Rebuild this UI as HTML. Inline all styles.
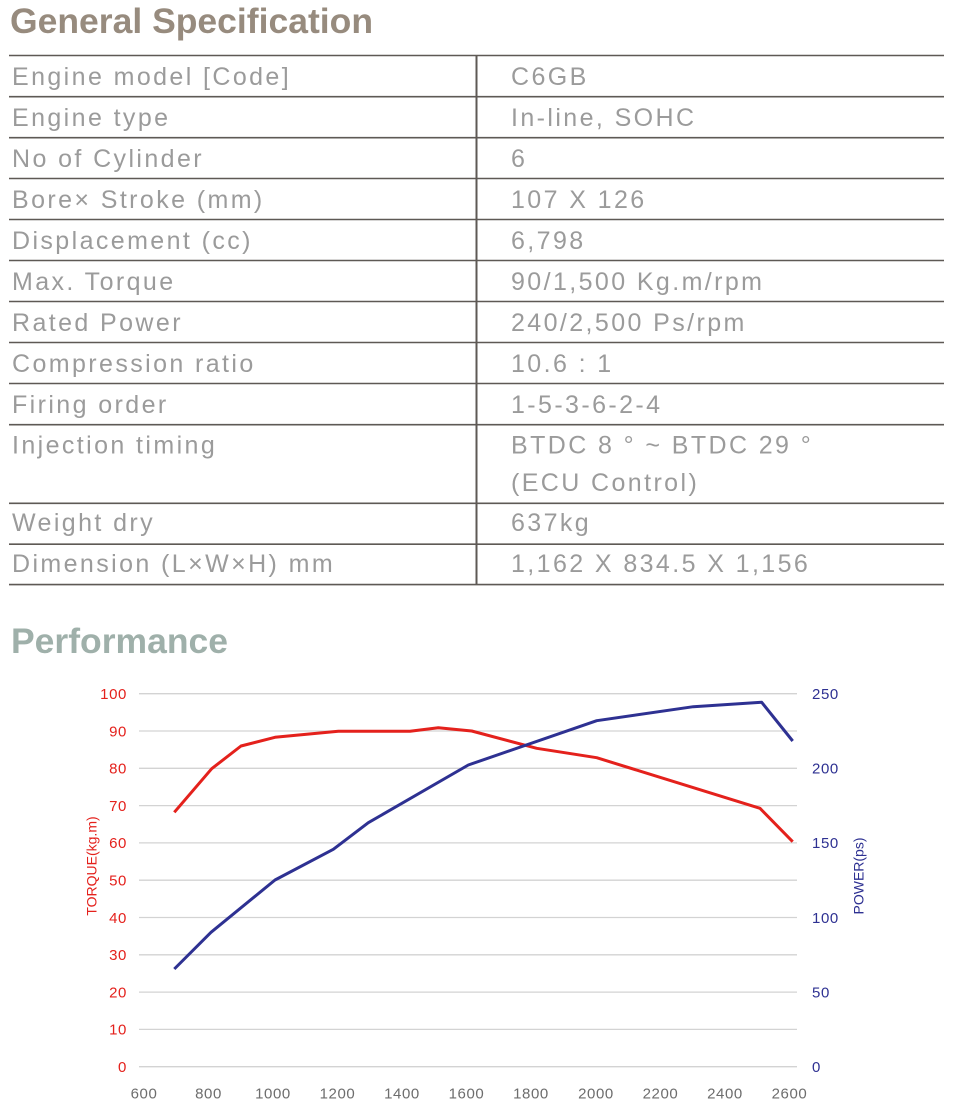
<!DOCTYPE html>
<html>
<head>
<meta charset="utf-8">
<style>
html,body{margin:0;padding:0;background:#fff;}
body{width:956px;height:1113px;overflow:hidden;}
svg{display:block;}
.t{font-family:"Liberation Sans",Arial,sans-serif;font-size:25px;fill:#9b9b9b;letter-spacing:2.4px;}
.h{font-family:"Liberation Sans",Arial,sans-serif;font-size:35.5px;font-weight:bold;}
.ax{font-family:"Liberation Sans",Arial,sans-serif;font-size:15px;letter-spacing:0.6px;}
.at{font-family:"Liberation Sans",Arial,sans-serif;font-size:14px;}
</style>
</head>
<body>
<svg width="956" height="1113" viewBox="0 0 956 1113" xmlns="http://www.w3.org/2000/svg">
  <!-- Titles -->
  <text class="h" x="10" y="33" fill="#978b7e">General Specification</text>
  <text class="h" x="11" y="653" fill="#9fb0aa">Performance</text>

  <!-- Table lines -->
  <g stroke="#5e5955" stroke-width="1.6">
    <line x1="9" y1="55.5" x2="944" y2="55.5"/>
    <line x1="9" y1="96.7" x2="944" y2="96.7"/>
    <line x1="9" y1="137.7" x2="944" y2="137.7"/>
    <line x1="9" y1="178.5" x2="944" y2="178.5"/>
    <line x1="9" y1="219.5" x2="944" y2="219.5"/>
    <line x1="9" y1="260.5" x2="944" y2="260.5"/>
    <line x1="9" y1="301.5" x2="944" y2="301.5"/>
    <line x1="9" y1="342.5" x2="944" y2="342.5"/>
    <line x1="9" y1="383.5" x2="944" y2="383.5"/>
    <line x1="9" y1="424.7" x2="944" y2="424.7"/>
    <line x1="9" y1="503.3" x2="944" y2="503.3"/>
    <line x1="9" y1="544.2" x2="944" y2="544.2"/>
    <line x1="9" y1="584.6" x2="944" y2="584.6"/>
  </g>
  <line x1="476.5" y1="55" x2="476.5" y2="585" stroke="#5e5955" stroke-width="2"/>

  <!-- Table text left -->
  <text class="t" x="12" y="85">Engine model [Code]</text>
  <text class="t" x="12" y="126">Engine type</text>
  <text class="t" x="12" y="167">No of Cylinder</text>
  <text class="t" x="12" y="208">Bore× Stroke (mm)</text>
  <text class="t" x="12" y="249">Displacement (cc)</text>
  <text class="t" x="12" y="290">Max. Torque</text>
  <text class="t" x="12" y="331">Rated Power</text>
  <text class="t" x="12" y="372">Compression ratio</text>
  <text class="t" x="12" y="413">Firing order</text>
  <text class="t" x="12" y="453.3">Injection timing</text>
  <text class="t" x="12" y="531">Weight dry</text>
  <text class="t" x="12" y="572">Dimension (L×W×H) mm</text>

  <!-- Table text right -->
  <text class="t" x="511" y="85">C6GB</text>
  <text class="t" x="511" y="126">In-line, SOHC</text>
  <text class="t" x="511" y="167">6</text>
  <text class="t" x="511" y="208">107 X 126</text>
  <text class="t" x="511" y="249">6,798</text>
  <text class="t" x="511" y="290">90/1,500 Kg.m/rpm</text>
  <text class="t" x="511" y="331">240/2,500 Ps/rpm</text>
  <text class="t" x="511" y="372">10.6 : 1</text>
  <text class="t" x="511" y="413">1-5-3-6-2-4</text>
  <text class="t" x="511" y="453.3">BTDC 8 ° ~ BTDC 29 °</text>
  <text class="t" x="511" y="491">(ECU Control)</text>
  <text class="t" x="511" y="531">637kg</text>
  <text class="t" x="511" y="572">1,162 X 834.5 X 1,156</text>

  <!-- Chart gridlines -->
  <g stroke="#d3d3d3" stroke-width="1.3">
    <line x1="139" y1="1066.7" x2="797" y2="1066.7"/>
    <line x1="139" y1="1029.4" x2="797" y2="1029.4"/>
    <line x1="139" y1="992.1" x2="797" y2="992.1"/>
    <line x1="139" y1="954.8" x2="797" y2="954.8"/>
    <line x1="139" y1="917.5" x2="797" y2="917.5"/>
    <line x1="139" y1="880.2" x2="797" y2="880.2"/>
    <line x1="139" y1="842.9" x2="797" y2="842.9"/>
    <line x1="139" y1="805.6" x2="797" y2="805.6"/>
    <line x1="139" y1="768.3" x2="797" y2="768.3"/>
    <line x1="139" y1="731" x2="797" y2="731"/>
    <line x1="139" y1="693.7" x2="797" y2="693.7"/>
  </g>

  <!-- Left axis labels -->
  <g class="ax" fill="#e4211c" text-anchor="end">
    <text x="127" y="1072">0</text>
    <text x="127" y="1034.7">10</text>
    <text x="127" y="997.4">20</text>
    <text x="127" y="960.1">30</text>
    <text x="127" y="922.8">40</text>
    <text x="127" y="885.5">50</text>
    <text x="127" y="848.2">60</text>
    <text x="127" y="810.9">70</text>
    <text x="127" y="773.6">80</text>
    <text x="127" y="736.3">90</text>
    <text x="127" y="699">100</text>
  </g>

  <!-- Right axis labels -->
  <g class="ax" fill="#2e3192" text-anchor="start">
    <text x="812" y="1072">0</text>
    <text x="812" y="997.4">50</text>
    <text x="812" y="922.8">100</text>
    <text x="812" y="848.2">150</text>
    <text x="812" y="773.6">200</text>
    <text x="812" y="699">250</text>
  </g>

  <!-- X axis labels -->
  <g class="ax" fill="#6d6d6d" text-anchor="middle">
    <text x="144" y="1098.5">600</text>
    <text x="208.5" y="1098.5">800</text>
    <text x="273" y="1098.5">1000</text>
    <text x="337.5" y="1098.5">1200</text>
    <text x="402" y="1098.5">1400</text>
    <text x="466.5" y="1098.5">1600</text>
    <text x="531" y="1098.5">1800</text>
    <text x="596" y="1098.5">2000</text>
    <text x="660.5" y="1098.5">2200</text>
    <text x="725" y="1098.5">2400</text>
    <text x="789.5" y="1098.5">2600</text>
  </g>

  <!-- Axis titles -->
  <text class="at" fill="#e4211c" text-anchor="middle" transform="translate(96.7,866) rotate(-90)">TORQUE(kg.m)</text>
  <text class="at" fill="#2e3192" text-anchor="middle" transform="translate(863.5,876) rotate(-90)">POWER(ps)</text>

  <!-- Series -->
  <polyline fill="none" stroke="#e4211c" stroke-width="3" stroke-linejoin="round"
    points="174.3,812.3 211.7,768.7 241,746 275,737.3 338.3,731.3 410,731.3 438.3,727.7 471.7,731 536.7,748.3 596.7,757.7 760,808.3 792.7,841.7"/>
  <polyline fill="none" stroke="#2e3192" stroke-width="3" stroke-linejoin="round"
    points="174.3,969 211,932.3 275,880 333.3,849.3 368.3,822.7 468.3,765 596.7,720.7 693.3,706.7 761.7,702.3 792.7,741"/>
</svg>
</body>
</html>
